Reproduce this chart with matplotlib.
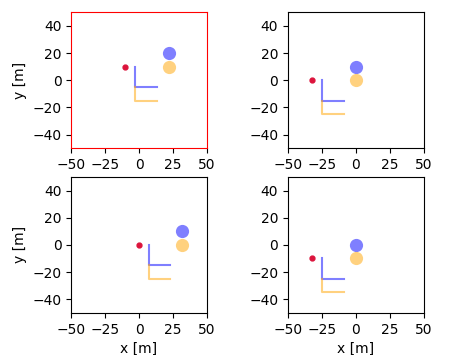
import matplotlib
matplotlib.use('Agg')
import matplotlib.pyplot as plt
import numpy as np

# red point (x, y) per panel
red_x = [-10, -32, 0, -32]
red_y = [10, 0, 0, -10]
# orange circle per panel, blue circle sits 10 m above it
circ_x = [22, 0, 32, 0]
circ_y = [10, 0, 0, -10]
blue_off = 10
# L shapes: offset from red point
l_dx = 7
l_len = 16
blue_drop = 15
orange_drop = 25

fig, axs = plt.subplots(2, 2, figsize=(4.74, 3.55), dpi=100)
plt.subplots_adjust(left=0.15, right=0.894, top=0.966, bottom=0.118,
                    hspace=0.206, wspace=0.596)

for i, ax in enumerate(axs.flat):
    x0 = red_x[i] + l_dx
    y0 = red_y[i]
    ax.plot([x0, x0, x0 + l_len], [y0, y0 - blue_drop, y0 - blue_drop],
            color='blue', alpha=0.5, lw=1.5)
    ax.plot([x0, x0, x0 + l_len], [y0 - blue_drop, y0 - orange_drop, y0 - orange_drop],
            color='orange', alpha=0.5, lw=1.5)
    ax.plot(circ_x[i], circ_y[i] + blue_off, 'o', color='blue', alpha=0.5, ms=9.5, mec='none')
    ax.plot(circ_x[i], circ_y[i], 'o', color='orange', alpha=0.5, ms=9.5, mec='none')
    ax.plot(red_x[i], red_y[i], 'o', color='crimson', ms=3.5)
    ax.set_xlim(-50, 50)
    ax.set_ylim(-50, 50)
    ax.set_xticks([-50, -25, 0, 25, 50])
    ax.set_yticks([-40, -20, 0, 20, 40])
    ax.set_aspect('equal')
    if i % 2 == 0:
        ax.set_ylabel('y [m]')
    if i >= 2:
        ax.set_xlabel('x [m]')

for s in axs[0, 0].spines.values():
    s.set_color('red')

plt.savefig('out.png')
